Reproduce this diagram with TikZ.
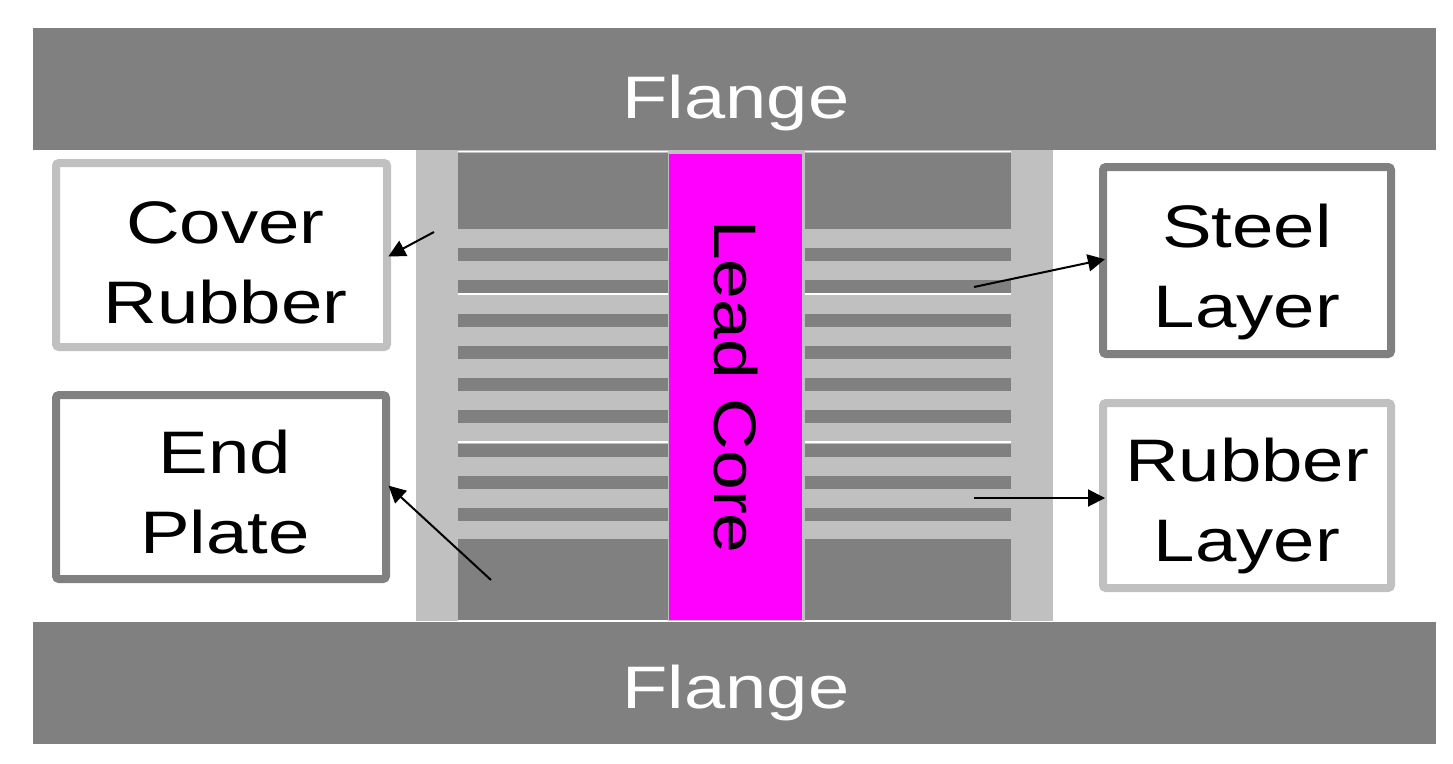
\documentclass[tikz,border=0pt]{standalone}
\usepackage{fontspec}
\setmainfont{Liberation Sans}
\newfontfamily\flangefont[FakeStretch=1.235]{Liberation Sans}
\newfontfamily\corefont[FakeStretch=1.19]{Liberation Sans}
\newfontfamily\widerfont[FakeStretch=1.24]{Liberation Sans}
\usetikzlibrary{arrows.meta}
\definecolor{dk}{HTML}{808080}
\definecolor{lt}{HTML}{C0C0C0}
\definecolor{mg}{HTML}{FF00FF}
\newcommand\topgap[1]{\rule{0pt}{#1}}
\newcommand\nudge{\hspace*{8pt}}
\tikzset{x=1pt,y=-1pt,
  flangebar/.style={fill=dk,draw=none,text=white,font=\flangefont\fontsize{60}{60}\selectfont,inner sep=0,minimum width=1403pt,minimum height=122pt},
  labelbox/.style={fill=white,line width=8pt,rounded corners=3pt,inner sep=0,align=center,font=\widerfont\fontsize{60}{80}\selectfont},
  lightbox/.style={labelbox,draw=lt},
  darkbox/.style={labelbox,draw=dk},
  callout/.style={draw=black,line width=2pt,-{Triangle[length=17pt,width=17pt]}},
  steel/.style={fill=dk,draw=none},
  whiteline/.style={draw=white,line width=1.6pt}}
\begin{document}
\begin{tikzpicture}
\useasboundingbox (0,0) rectangle (1453,763);
\fill[white] (0,0) rectangle (1453,763);
\node[flangebar] (flangetop) at (734.5,89) {\hspace*{3pt}\topgap{71pt}Flange};
\node[flangebar] (flangebot) at (734.5,682.5) {\hspace*{3pt}\topgap{65pt}Flange};
\fill[lt] (416,150) rectangle (1053,620.5);
\foreach \xa/\xb in {458/667.5,805/1011}{
  \fill[steel] (\xa,153) rectangle (\xb,228.5);
  \fill[steel] (\xa,539) rectangle (\xb,620.5);
  \foreach \ya in {248,280,314,346,378,410,444,476,508}{
    \fill[steel] (\xa,\ya) rectangle (\xb,\ya+12.5);
  }
  \draw[whiteline] (\xa,151.5) -- (\xb,151.5);
  \draw[whiteline] (\xa,293.7) -- (\xb,293.7);
  \draw[whiteline] (\xa,442) -- (\xb,442);
  \draw[whiteline] (\xa,620.5) -- (\xb,620.5);
}
\node[fill=mg,draw=none,inner sep=0,minimum width=133pt,minimum height=466pt,font=\corefont\fontsize{60}{60}\selectfont] (lead) at (735.5,387) {\rotatebox{-90}{Lead Core}};
\node[lightbox,minimum width=331pt,minimum height=184pt] (cover) at (221.5,255) {\nudge\topgap{58pt}Cover\\\nudge Rubber};
\node[darkbox,minimum width=330pt,minimum height=184pt] (endplate) at (221,487) {\nudge\topgap{53pt}End\\\nudge Plate};
\node[darkbox,minimum width=288pt,minimum height=187pt] (steelbox) at (1247,260.5) {\topgap{66pt}Steel\\Layer};
\node[lightbox,minimum width=288pt,minimum height=185pt] (rubberbox) at (1247,495.5) {\topgap{64pt}Rubber\\Layer};
\coordinate (covertail) at (434,232);
\coordinate (endtail) at (491,580);
\coordinate (steeltail) at (974,287);
\coordinate (rubbertail) at (974,498);
\draw[callout,shorten >=-3pt] (covertail) -- (cover.east);
\draw[callout,shorten >=-2pt] (endtail) -- (endplate.east);
\draw[callout,shorten >=-6pt] (steeltail) -- (steelbox.west);
\draw[callout,shorten >=-6pt] (rubbertail) -- (rubberbox.west |- rubbertail);
\end{tikzpicture}
\end{document}
